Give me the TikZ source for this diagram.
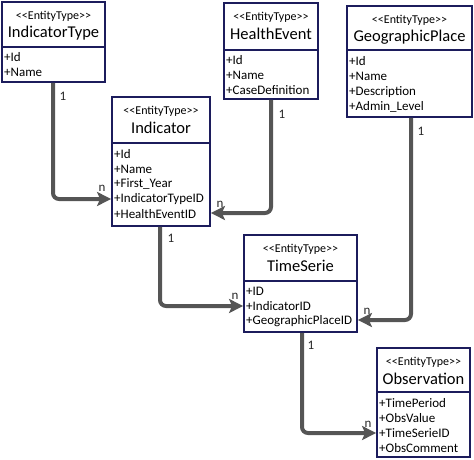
\documentclass[tikz,border=0pt]{standalone}
\usepackage{fontspec}
\setmainfont{Carlito}
\usetikzlibrary{arrows.meta,fit}
\definecolor{navy}{HTML}{1C1C5C}
\definecolor{conngray}{HTML}{555555}
\tikzset{
  ebox/.style={draw=navy, line width=1.8pt, inner sep=0pt, fill=white},
  divline/.style={draw=navy, line width=1.6pt},
  stereo/.style={font=\fontsize{12}{13}\selectfont, inner sep=0pt},
  etitle/.style={font=\fontsize{16.5}{18}\selectfont, inner sep=0pt},
  attr/.style={font=\fontsize{13}{14}\selectfont, inner sep=0pt, anchor=west},
  conn/.style={draw=conngray, line width=4pt, rounded corners=6pt,
    -{Stealth[length=14pt,width=14pt,inset=3pt]}},
  mult/.style={font=\fontsize{13}{14}\selectfont, inner sep=0pt, text=black!85}
}
% #1 name, #2 left, #3 top, #4 right, #5 divider, #6 bottom, #7 title
\newcommand\entbox[7]{%
  \coordinate (#1nw) at (#2,#3);
  \coordinate (#1se) at (#4,#6);
  \node[ebox, fit=(#1nw)(#1se)] (#1) {};
  \draw[divline] (#2,#5) -- (#4,#5);
  \node[stereo] (#1st) at ({(#2+#4)/2},#3+14) {{<}{<}EntityType{>}{>}};
  \node[etitle] (#1tt) at ({(#2+#4)/2},#3+31) {#7};
}
\begin{document}
\begin{tikzpicture}[x=1pt,y=-1pt]
\useasboundingbox (0,0) rectangle (474,460);

% entities
\entbox{it}{2}{2}{105}{47}{82}{IndicatorType}
\node[attr] (it1) at (4,57) {+Id};
\node[attr] (it2) at (4,72) {+Name};

\entbox{he}{224}{3}{318}{50}{99}{HealthEvent}
\node[attr] (he1) at (226,60) {+Id};
\node[attr] (he2) at (226,75) {+Name};
\node[attr] (he3) at (226,90) {+CaseDefinition};

\entbox{gp}{347}{6}{472}{50}{117}{GeographicPlace}
\node[attr] (gp1) at (349,61) {+Id};
\node[attr] (gp2) at (349,76) {+Name};
\node[attr] (gp3) at (349,92) {+Description};
\node[attr] (gp4) at (349,107) {+Admin\_Level};

\entbox{ind}{112}{97}{210}{143}{226}{Indicator}
\node[attr] (ind1) at (114,154) {+Id};
\node[attr] (ind2) at (114,169) {+Name};
\node[attr] (ind3) at (114,184) {+First\_Year};
\node[attr] (ind4) at (114,199) {+IndicatorTypeID};
\node[attr] (ind5) at (114,214) {+HealthEventID};

\entbox{ts}{244}{235}{357}{281}{332}{TimeSerie}
\node[attr] (ts1) at (246,291) {+ID};
\node[attr] (ts2) at (246,306) {+IndicatorID};
\node[attr] (ts3) at (246,321) {+GeographicPlaceID};

\entbox{ob}{377}{348}{470}{392}{457}{Observation}
\node[attr] (ob1) at (379,403) {+TimePeriod};
\node[attr] (ob2) at (379,418) {+ObsValue};
\node[attr] (ob3) at (379,433) {+TimeSerieID};
\node[attr] (ob4) at (379,448) {+ObsComment};

% connectors
\draw[conn] (53,0 |- it.south) |- (ind.west |- 0,199);
\draw[conn] (271,0 |- he.south) |- (ind.east |- 0,213);
\draw[conn] (160,0 |- ind.south) |- (ts.west |- 0,306);
\draw[conn] (411,0 |- gp.south) |- (ts.east |- 0,320);
\draw[conn] (302,0 |- ts.south) |- (ob.west |- 0,433);

% multiplicities
\node[mult] (m1a) at (63,96) {1};
\node[mult] (m1b) at (102,188) {n};
\node[mult] (m2a) at (282,114) {1};
\node[mult] (m2b) at (220,204) {n};
\node[mult] (m3a) at (171,238) {1};
\node[mult] (m3b) at (235,296) {n};
\node[mult] (m4a) at (421,131) {1};
\node[mult] (m4b) at (367,311) {n};
\node[mult] (m5a) at (311,345) {1};
\node[mult] (m5b) at (368,424) {n};
\end{tikzpicture}
\end{document}
